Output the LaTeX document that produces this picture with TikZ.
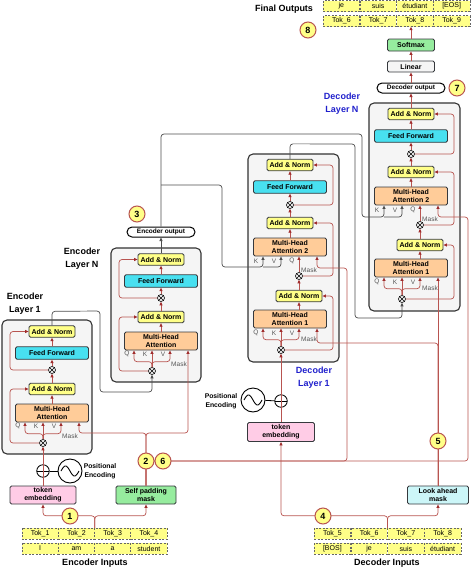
\documentclass[tikz,border=0pt]{standalone}
\usepackage{fontspec}
\setmainfont{Liberation Sans}
\usetikzlibrary{arrows.meta}
\definecolor{normyellow}{HTML}{FFFF88}
\definecolor{ffcyan}{HTML}{48E0F0}
\definecolor{mhaorange}{HTML}{FFCC99}
\definecolor{embpink}{HTML}{FFCCE6}
\definecolor{maskgreen}{HTML}{96EC9E}
\definecolor{lookcyan}{HTML}{CCF6F8}
\definecolor{layerfill}{HTML}{F5F5F5}
\definecolor{layeredge}{HTML}{333333}
\definecolor{edge}{HTML}{36393D}
\definecolor{redline}{HTML}{B85450}
\definecolor{redtip}{HTML}{A02C2C}
\definecolor{linegray}{HTML}{4D4D4D}
\definecolor{qgray}{HTML}{555555}
\definecolor{celledge}{HTML}{666666}
\definecolor{decblue}{HTML}{1F1FCC}

\begin{document}
\begin{tikzpicture}[x=1pt,y=-1pt,
	every node/.style={inner sep=0pt,align=center,font=\fontsize{7}{8}\selectfont},
	block/.style={draw=edge,rounded corners=1.5pt,line width=0.8pt,font=\bfseries\fontsize{7}{8}\selectfont},
	addnorm/.style={block,fill=normyellow,minimum width=46pt,minimum height=11.5pt},
	ffwd/.style={block,fill=ffcyan,minimum width=73pt,minimum height=12.5pt},
	mha/.style={block,fill=mhaorange,minimum width=73pt,minimum height=18pt},
	pill/.style={draw=black,fill=white,rounded corners=5pt,line width=1pt,minimum width=68pt,minimum height=10pt,font=\bfseries\fontsize{6.5}{7}\selectfont},
	layer/.style={draw=layeredge,fill=layerfill,rounded corners=5pt,line width=1.1pt},
	otimes/.style={circle,draw,line width=0.6pt,minimum size=7pt,path picture={\draw[line width=0.6pt] (path picture bounding box.north west) -- (path picture bounding box.south east) (path picture bounding box.north east) -- (path picture bounding box.south west);}},
	oplus/.style={circle,draw,line width=0.8pt,minimum size=12.5pt,path picture={\draw[line width=0.8pt] (path picture bounding box.north) -- (path picture bounding box.south) (path picture bounding box.west) -- (path picture bounding box.east);}},
	wave/.style={circle,draw,line width=0.9pt,minimum size=24pt,path picture={\draw[line width=0.9pt,shift={(path picture bounding box.center)}] plot[domain=-9:9,samples=37,smooth] (\x,{5*sin(20*\x)});}},
	qkv/.style={text=qgray,font=\fontsize{6.5}{7}\selectfont},
	num/.style={circle,draw=redline,fill=normyellow,line width=1pt,minimum size=16pt,font=\bfseries\fontsize{9}{9}\selectfont},
	heading/.style={font=\bfseries\fontsize{9}{13}\selectfont},
	poslab/.style={font=\bfseries\fontsize{6.8}{9}\selectfont},
	cell/.style={draw=celledge,dash pattern=on 2pt off 1.5pt,fill=normyellow,minimum width=36.5pt,minimum height=11pt,font=\fontsize{7}{8}\selectfont},
	rl/.style={draw=redline,line width=0.7pt,rounded corners=3pt,-{Triangle[length=3.5pt,width=3pt,color=redtip]}},
	gl/.style={draw=linegray,line width=0.7pt,rounded corners=3pt,-{Triangle[length=3.5pt,width=3pt]}}]
	\useasboundingbox (0,0) rectangle (474,571);

	\foreach \n/\cx/\ty in {e1/52/320,eN/161/248} {
		\node[layer,minimum width=90pt,minimum height=134pt] (\n-box) at ({\cx-5},{\ty+67}) {};
		\node[addnorm] (\n-an1) at (\cx,{\ty+11.5}) {Add \& Norm};
		\node[ffwd] (\n-ff) at (\cx,{\ty+33}) {Feed Forward};
		\node[otimes] (\n-m1) at (\cx,{\ty+50}) {};
		\node[addnorm] (\n-an2) at (\cx,{\ty+69}) {Add \& Norm};
		\node[mha] (\n-mha) at (\cx,{\ty+93}) {Multi-Head\\Attention};
		\node[otimes] (\n-m2) at ({\cx-9},{\ty+123}) {};
		\node[qkv] (\n-q) at ({\cx-34},{\ty+106}) {Q};
		\node[qkv] (\n-k) at ({\cx-16},{\ty+106}) {K};
		\node[qkv] (\n-v) at ({\cx+2},{\ty+106}) {V};
		\node[qkv] (\n-mask) at ({\cx+18},{\ty+116}) {Mask};
		\coordinate (\n-rx) at ({\cx-42},{\ty});
		\draw[rl] (\n-mha) -- (\n-an2);
		\draw[rl] (\n-an2) -- (\n-m1);
		\draw[rl] (\n-m1) -- (\n-ff);
		\draw[rl] (\n-ff) -- (\n-an1);
		\draw[rl] (\n-m2) -- (\n-m2 |- \n-mha.south);
		\draw[rl] (\n-m2.north) -- ++(0,-5.5) -| ([xshift=-27pt]\n-mha.south);
		\draw[rl] (\n-m2.north) -- ++(0,-5.5) -| ([xshift=9pt]\n-mha.south);
		\draw[rl] (\n-m2.west) -| (\n-rx |- \n-an2.west) -- (\n-an2.west);
		\draw[rl] (\n-m1.west) -| (\n-rx |- \n-an1.west) -- (\n-an1.west);
	}

	\foreach \n/\cx/\ty in {d1/290/154,dN/411/103} {
		\node[layer,minimum width=91pt,minimum height=208pt] (\n-box) at ({\cx+3.5},{\ty+104}) {};
		\node[addnorm] (\n-an1) at (\cx,{\ty+11}) {Add \& Norm};
		\node[ffwd] (\n-ff) at (\cx,{\ty+33}) {Feed Forward};
		\node[otimes] (\n-m1) at (\cx,{\ty+51}) {};
		\node[addnorm] (\n-an2) at (\cx,{\ty+69}) {Add \& Norm};
		\node[mha] (\n-mha2) at (\cx,{\ty+93}) {Multi-Head\\Attention 2};
		\node[otimes] (\n-m2) at ({\cx+9},{\ty+122}) {};
		\node[addnorm] (\n-an3) at ({\cx+9},{\ty+142}) {Add \& Norm};
		\node[mha] (\n-mha1) at (\cx,{\ty+165}) {Multi-Head\\Attention 1};
		\node[otimes] (\n-m3) at ({\cx-9},{\ty+196}) {};
		\node[qkv] (\n-k2) at ({\cx-34},{\ty+107}) {K};
		\node[qkv] (\n-v2) at ({\cx-16},{\ty+107}) {V};
		\node[qkv] (\n-q2) at ({\cx+2},{\ty+107}) {Q};
		\node[qkv] (\n-mask2) at ({\cx+19},{\ty+116}) {Mask};
		\node[qkv] (\n-q1) at ({\cx-34},{\ty+179}) {Q};
		\node[qkv] (\n-k1) at ({\cx-16},{\ty+179}) {K};
		\node[qkv] (\n-v1) at ({\cx+2},{\ty+179}) {V};
		\node[qkv] (\n-mask1) at ({\cx+19},{\ty+185}) {Mask};
		\coordinate (\n-rx) at ({\cx+43},{\ty});
		\draw[rl] ([xshift=9pt]\n-mha1.north) -- (\n-an3);
		\draw[rl] (\n-an3) -- (\n-m2);
		\draw[rl] (\n-m2) -- (\n-m2 |- \n-mha2.south);
		\draw[rl] (\n-mha2) -- (\n-an2);
		\draw[rl] (\n-an2) -- (\n-m1);
		\draw[rl] (\n-m1) -- (\n-ff);
		\draw[rl] (\n-ff) -- (\n-an1);
		\draw[rl] (\n-m3) -- (\n-m3 |- \n-mha1.south);
		\draw[rl] (\n-m3.north) -- ++(0,-6.5) -| ([xshift=-27pt]\n-mha1.south);
		\draw[rl] (\n-m3.north) -- ++(0,-6.5) -| ([xshift=9pt]\n-mha1.south);
		\draw[rl] (\n-m3.east) -| (\n-rx |- \n-an3.east) -- (\n-an3.east);
		\draw[rl] (\n-m2.east) -| (\n-rx |- \n-an2.east) -- (\n-an2.east);
		\draw[rl] (\n-m1.east) -| (\n-rx |- \n-an1.east) -- (\n-an1.east);
	}

	\node[heading] (e1-title) at (25,304) {Encoder\\Layer 1};
	\node[heading] (eN-title) at (82,259) {Encoder\\Layer N};
	\node[heading,text=decblue] (d1-title) at (314,377.5) {Decoder\\Layer 1};
	\node[heading,text=decblue] (dN-title) at (342,103.5) {Decoder\\Layer N};

	\foreach \w [count=\i] in {Tok\_1,Tok\_2,Tok\_3,Tok\_4}
		\node[cell] (ei-1-\i) at ({22+36.25*(\i-0.5)},533.5) {\w};
	\foreach \w [count=\i] in {I,am,a,student}
		\node[cell] (ei-2-\i) at ({22+36.25*(\i-0.5)},548.5) {\w};
	\foreach \w [count=\i] in {Tok\_5,Tok\_6,Tok\_7,Tok\_8}
		\node[cell] (di-1-\i) at ({314+36.75*(\i-0.5)},533.5) {\w};
	\foreach \w [count=\i] in {{[BOS]},je,suis,étudiant}
		\node[cell] (di-2-\i) at ({314+36.75*(\i-0.5)},548.5) {\w};
	\foreach \w [count=\i] in {je,suis,étudiant,{[EOS]}}
		\node[cell] (o-1-\i) at ({323+36.75*(\i-0.5)},6) {\w};
	\foreach \w [count=\i] in {Tok\_6,Tok\_7,Tok\_8,Tok\_9}
		\node[cell] (o-2-\i) at ({323+36.75*(\i-0.5)},21) {\w};
	\node[heading] (ei-title) at (95,563) {Encoder Inputs};
	\node[heading] (di-title) at (387,563) {Decoder Inputs};
	\node[heading] (o-title) at (284,9) {Final Outputs};

	\node[block,fill=embpink,minimum width=66pt,minimum height=18pt] (etok) at (43,495) {token\\embedding};
	\node[block,fill=maskgreen,minimum width=60pt,minimum height=18pt] (spm) at (146,495) {Self padding\\mask};
	\node[block,fill=embpink,minimum width=67pt,minimum height=19pt] (dtok) at (281,432) {token\\embedding};
	\node[block,fill=lookcyan,minimum width=61pt,minimum height=18pt] (look) at (438,495) {Look ahead\\mask};
	\node[pill] (encout) at (161,232) {Encoder output};
	\node[pill] (dout) at (411,88) {Decoder output};
	\node[block,fill=layerfill,minimum width=47pt,minimum height=11pt] (lin) at (411,66.5) {Linear};
	\node[block,fill=maskgreen,minimum width=47pt,minimum height=12pt] (sm) at (411,45) {Softmax};

	\node[oplus] (eplus) at (43,471) {};
	\node[wave] (esin) at (70,471) {};
	\node[poslab] (epos) at (100,471) {Positional\\Encoding};
	\node[oplus] (dplus) at (281,401) {};
	\node[wave] (dsin) at (253,400) {};
	\node[poslab] (dpos) at (221,401) {Positional\\Encoding};
	\draw[line width=0.8pt] (eplus) -- (esin);
	\draw[line width=0.8pt] (dplus) -- (dsin);

	\draw[gl] (e1-an1.north) -- ++(0,-14) -- (100,311) -- (100,392) -| (eN-m2.south);
	\draw[gl] (eN-an1) -- (encout);
	\draw[gl] (encout.north) -- (161,134) -- (362,134) -- (362,217) -| ([xshift=-27pt]dN-mha2.south);
	\draw[gl] (384,217) -| ([xshift=-9pt]dN-mha2.south);
	\draw[gl] (161,185) -- (222,185) -- (222,267) -| ([xshift=-27pt]d1-mha2.south);
	\draw[gl] (263,267) -| ([xshift=-9pt]d1-mha2.south);
	\draw[gl] (d1-an1.north) -- ++(0,-15) -- (355,144) -- (355,318) -| (dN-m3.south);

	\draw[rl] (etok) -- (e1-m2);
	\draw[rl] (dtok) -- (d1-m3);
	\draw[rl] (ei-1-2.north east) -- ++(0,-12) -| (etok.south);
	\draw[rl] (ei-1-2.north east) -- ++(0,-12) -| (spm.south);
	\draw[rl] (di-1-2.north east) -- ++(0,-12) -| (dtok.south);
	\draw[rl] (di-1-2.north east) -- ++(0,-12) -| (look.south);
	\draw[rl] (spm.north) -- (146,433) -| ([xshift=27pt]e1-mha.south);
	\draw[rl] (spm.north) -- (146,433) -| ([xshift=27pt]eN-mha.south);
	\draw[rl] (spm.north) -- (146,461) -- (347,461) -- (347,268) -| ([xshift=27pt]d1-mha2.south);
	\draw[rl] (spm.north) -- (146,461) -- (468,461) -- (468,217) -| ([xshift=27pt]dN-mha2.south);
	\draw[rl] (look) -- ([xshift=27pt]dN-mha1.south);
	\draw[rl] (look.north) -- (438,343) -| ([xshift=27pt]d1-mha1.south);
	\draw[rl] (dN-an1) -- (dout);
	\draw[rl] (dout) -- (lin);
	\draw[rl] (lin) -- (sm);
	\draw[rl] (sm) -- (sm |- o-2-3.south);

	\node[num] (n1) at (70,516) {1};
	\node[num] (n2) at (146,461) {2};
	\node[num] (n6) at (163,461) {6};
	\node[num] (n3) at (137,214) {3};
	\node[num] (n4) at (323,516) {4};
	\node[num] (n5) at (438,441) {5};
	\node[num] (n7) at (457,88) {7};
	\node[num] (n8) at (308,30) {8};
\end{tikzpicture}
\end{document}
